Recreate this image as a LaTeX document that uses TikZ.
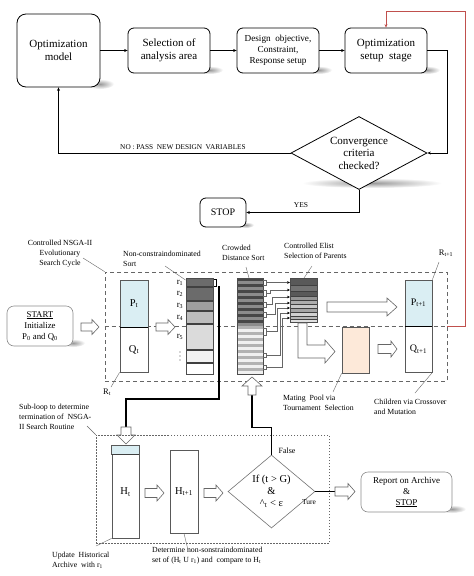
\documentclass[tikz,border=0pt]{standalone}
\usepackage{fontspec}
\setmainfont{Liberation Serif}
\usetikzlibrary{shapes.geometric,arrows.meta,calc}
\definecolor{redc}{RGB}{192,80,77}
\definecolor{ptblue}{RGB}{218,238,243}
\definecolor{mpeach}{RGB}{253,233,217}
% block arrows: x/y start, length, shaft, head, head length
\newcommand\blkR[6]{\draw[blk] ({#1},{#2-#4/2}) -- ({#1+#3-#6},{#2-#4/2}) -- ({#1+#3-#6},{#2-#5/2}) -- ({#1+#3},{#2}) -- ({#1+#3-#6},{#2+#5/2}) -- ({#1+#3-#6},{#2+#4/2}) -- ({#1},{#2+#4/2}) -- cycle;}
\newcommand\blkD[6]{\draw[blk] ({#1-#4/2},{#2}) -- ({#1-#4/2},{#2+#3-#6}) -- ({#1-#5/2},{#2+#3-#6}) -- ({#1},{#2+#3}) -- ({#1+#5/2},{#2+#3-#6}) -- ({#1+#4/2},{#2+#3-#6}) -- ({#1+#4/2},{#2}) -- cycle;}
\newcommand\blkU[6]{\draw[blk] ({#1-#4/2},{#2}) -- ({#1-#4/2},{#2-#3+#6}) -- ({#1-#5/2},{#2-#3+#6}) -- ({#1},{#2-#3}) -- ({#1+#5/2},{#2-#3+#6}) -- ({#1+#4/2},{#2-#3+#6}) -- ({#1+#4/2},{#2}) -- cycle;}
\newcommand\shd[4]{\shade[inner color=black!40,outer color=white] (#1,#2) ellipse [x radius=#3, y radius=#4];}
\newcommand\sub[1]{\textsubscript{#1}}
\begin{document}
\begin{tikzpicture}[x=1pt,y=-1pt,
  every node/.style={inner sep=0pt},
  box/.style={draw=black, line width=0.8pt, rounded corners=6pt, fill=white, align=center},
  gbox/.style={draw=black!45, line width=0.6pt, rounded corners=7pt, fill=white, align=center},
  col/.style={draw=black!70, line width=0.8pt},
  cell/.style={draw=black!65, line width=0.8pt},
  lbl/.style={font=\fontsize{7.8}{10}\selectfont, align=left, anchor=west},
  lead/.style={draw=black!60, line width=0.4pt},
  conn/.style={line width=0.8pt, -{Stealth[length=3.5pt,width=3pt]}},
  blk/.style={draw=black!60, line width=0.6pt, fill=white},
  thk/.style={line width=1.3pt},
  dsh/.style={draw=black!60, line width=0.7pt, dash pattern=on 4pt off 3pt}
]
\useasboundingbox (0,0) rectangle (474,576);
\fill[white] (0,0) rectangle (474,576);

% shadows
\shd{100}{84}{14}{5}
\shd{210}{70}{13}{4}
\shd{319}{70}{13}{4}
\shd{427}{70}{13}{4}
\shd{246}{225}{8}{3}
\shd{73}{343}{12}{4}
\shd{452}{509}{14}{4}
\shd{372}{183}{70}{5}

% ---------- top flow ----------
\node[box, rounded corners=9pt, minimum width=83pt, minimum height=73pt, font=\fontsize{11}{13}\selectfont] (om) at (58.5,50.5) {Optimization\\model};
\node[box, minimum width=82pt, minimum height=45pt, font=\fontsize{11}{13}\selectfont] (sa) at (169,50.5) {Selection of\\analysis area};
\node[box, minimum width=82pt, minimum height=45pt, font=\fontsize{9.2}{11}\selectfont] (dc) at (278,50.5) {Design\ \ objective,\\Constraint,\\Response setup};
\node[box, minimum width=82pt, minimum height=45pt, font=\fontsize{11}{13}\selectfont] (os) at (386,50.5) {Optimization\\setup\ \ stage};
\node[diamond, draw, line width=0.8pt, fill=white, aspect=1.86, minimum width=136pt, minimum height=73pt, align=center, font=\fontsize{11}{12.5}\selectfont] (cc) at (359,153) {Convergence\\criteria\\checked?};
\node[box, minimum width=46pt, minimum height=29pt, font=\fontsize{10}{12}\selectfont] (stop) at (223,212.5) {STOP};

\draw[conn] (om.east) -- (sa.west);
\draw[conn] (sa.east) -- (dc.west);
\draw[conn] (dc.east) -- (os.west);
\draw[conn] (os.east) -- ++(20,0) |- (cc.east);
\draw[conn] (cc.west) -| (om.south);
\draw[conn] (cc.south) |- (stop.east);
\node[font=\fontsize{7.3}{8}\selectfont] (no) at (183,147) {NO : PASS\ \ NEW DESIGN\ \ VARIABLES};
\node[font=\fontsize{7.5}{8}\selectfont] (yes) at (301,205.5) {YES};

% ---------- NSGA-II cycle ----------
\node[dsh, minimum width=342pt, minimum height=109pt] (cyc) at (276,326.5) {};
\draw[dsh, line width=0.6pt] (cyc.west) -- (cyc.east);

\coordinate (rc) at (465,11);
\draw[conn, draw=redc] (cyc.east) -| (rc) -| (os.north);

\node[cell, fill=ptblue, minimum width=28pt, minimum height=47pt, font=\fontsize{10.5}{12}\selectfont] (pt) at (134,303.5) {P\sub{t}};
\node[cell, fill=white, minimum width=28pt, minimum height=45pt, font=\fontsize{10.5}{12}\selectfont] (qt) at (134,349.5) {Q\sub{t}};
\draw[line width=1.2pt] (pt.south west) -- (pt.south east);

\node[gbox, minimum width=66pt, minimum height=40pt, font=\fontsize{8.8}{11}\selectfont] (st) at (40,326) {\underline{START}\\Initialize\\P\sub{0} and Q\sub{0}};
\blkR{81}{327}{18}{8}{15}{7}
\blkR{156}{327}{19}{8}{15}{7}

% non-dominated sort column
\foreach \a/\b/\c in {278/287/58, 287/301/58, 301/311/38, 311/324/26, 324/350/14, 350/363/5, 363/374/0}
  \fill[black!\c] (186,\a) rectangle (213,\b);
\foreach \yy in {287,301,311,324,350,363}
  \draw[line width=1.2pt, black!75] (186,\yy) -- (213,\yy);
\node[col, minimum width=27pt, minimum height=96pt] (srt) at (199.5,326) {};
\foreach \n/\yy in {1/283, 2/294, 3/306, 4/318, 5/337}
  \node[font=\fontsize{9}{10}\selectfont] (r\n) at (180,\yy) {r\sub{\n}};
\foreach \yy in {352,356,360}
  \fill[black!70] (180,\yy) circle [radius=0.6pt];
\draw[line width=0.7pt] (214,279) -- (216.5,279) -- (216.5,286) -- (214,286);

% crowded distance column
\foreach \i in {0,...,15} {
  \pgfmathtruncatemacro\c{mod(\i,2)==0 ? 72 : 45}
  \fill[black!\c] (237,{278+3*\i}) rectangle (263,{281+3*\i});
}
\foreach \i in {16,...,31} {
  \pgfmathtruncatemacro\c{mod(\i,2)==0 ? 30 : 6}
  \fill[black!\c] (237,{278+3*\i}) rectangle (263,{281+3*\i});
}
\node[col, minimum width=26pt, minimum height=96pt] (cds) at (250,326) {};

% elitist selection column
\foreach \a/\b/\c in {278/285/65, 285/291/55, 291/296/65, 296/300/42, 300/304/32, 304/308/22, 308/312/35, 312/316/18, 316/319/28, 319/322/12}
  \fill[black!\c] (290,\a) rectangle (317,\b);
\foreach \yy in {285,291,296,300,304,308,312,316,319}
  \draw[line width=0.6pt, black!75] (290,\yy) -- (317,\yy);
\node[col, minimum width=27pt, minimum height=44pt] (eli) at (303.5,300) {};

\foreach \ya/\yb/\rx/\ty in {280/285/268/282.5, 290/296/270/290, 302/307/272.5/297, 312/317/275/303, 328/335/277.5/308, 353/357/280/313, 365/369/282.5/318} {
  \draw[black!60, line width=0.5pt] (263,\ya) -- (266,\ya) -- (266,\yb) -- (263,\yb);
  \draw[black!60, line width=0.5pt, -{Stealth[length=3pt,width=2.6pt,black]}] (266,{(\ya+\yb)/2}) -| (\rx,\ty) -- (290,\ty);
}

\blkR{327}{307}{70}{10}{18}{10}
\node[cell, fill=ptblue, minimum width=27pt, minimum height=46pt, font=\fontsize{10}{12}\selectfont] (pt1) at (418.5,303) {P\sub{t+1}};
\node[cell, fill=white, minimum width=27pt, minimum height=46pt, font=\fontsize{10}{12}\selectfont] (qt1) at (418.5,349) {Q\sub{t+1}};
\draw[line width=1.2pt] (pt1.south west) -- (pt1.south east);

\draw[blk] (298,323) -- (298,358) -- (325,358) -- (325,363) -- (335,351.5) -- (325,340) -- (325,345) -- (307,345) -- (307,323) -- cycle;
\node[cell, fill=mpeach, minimum width=27pt, minimum height=46pt] (mp) at (355.5,350) {};
\blkR{378}{349}{19}{9}{16}{6}

% thick link down to sub-loop
\coordinate (brk) at (219,286);
\coordinate (hin) at (126,427);
\draw[thk] (brk) -- ++(0,113) -| (hin);
\blkD{126}{427}{17}{10}{18}{9}

% ---------- sub-loop ----------
\node[draw=black!60, line width=0.7pt, dash pattern=on 1.5pt off 1.5pt, minimum width=233pt, minimum height=108pt] (sub) at (212.5,489) {};
\node[cell, fill=white, minimum width=27pt, minimum height=92pt, font=\fontsize{10.5}{12}\selectfont] (ht) at (125.5,492) {H\sub{t}};
\draw[cell, fill=ptblue] (ht.north west) rectangle ($(ht.north east)+(0,9)$);
\draw[line width=1pt, black!75] ($(ht.north west)+(0,9)$) -- ($(ht.north east)+(0,9)$);
\node[cell, fill=white, minimum width=28pt, minimum height=83pt, font=\fontsize{10.5}{12}\selectfont] (ht1) at (184,491.5) {H\sub{t+1}};
\blkR{145}{493}{19}{9}{16}{7}
\blkR{204}{493}{19}{9}{16}{7}
\node[diamond, draw=black!55, line width=0.6pt, fill=white, aspect=1.19, minimum width=87pt, minimum height=73pt, align=center, font=\fontsize{10.5}{12}\selectfont] (dd) at (271.5,491.5) {If (t > G)\\\&\\\textasciicircum\sub{t} < ε};

\draw[thk] (dd.east) -- ++(20,0);
\blkR{335}{491.5}{20}{9}{16}{7}
\node[font=\fontsize{7.5}{9}\selectfont] (ture) at (309,502) {Ture};
\coordinate (upb) at (252,395);
\draw[thk] (dd.north) -- ++(0,-27) -| (upb);
\blkU{252}{395}{18}{8}{20}{9}
\node[font=\fontsize{8}{9}\selectfont] (false) at (287,451) {False};

\node[gbox, minimum width=91pt, minimum height=40pt, font=\fontsize{9}{11}\selectfont] (rp) at (406.5,492) {Report on Archive\\\&\\\underline{STOP}};

% ---------- labels ----------
\node[lbl, align=center, anchor=center] (l1) at (60,254) {Controlled NSGA-II\\Evolutionary\\Search Cycle};
\draw[lead] (83,258) -- (cyc.north west);
\node[lbl] (l2) at (123,259) {Non-constraindominated\\Sort};
\draw[lead] (165,266) -- (185.5,280);
\node[lbl] (l3) at (222,253) {Crowded\\Distance Sort};
\draw[lead] (246,267) -- (249,278);
\node[lbl] (l4) at (284,251) {Controlled Elist\\Selection of Parents};
\draw[lead] (312,266) -- (304,278);
\node[font=\fontsize{8.5}{10}\selectfont] (rt1) at (446,253) {R\sub{t+1}};
\draw[lead] (439,262) -- (pt1.north east);
\node[font=\fontsize{8.5}{10}\selectfont] (rt) at (107,392) {R\sub{t}};
\draw[lead] (111,387) -- (qt.south west);
\node[lbl] (l5) at (283,403) {Mating\ \ Pool via\\Tournament\ \ Selection};
\draw[lead] (mp.south west) -- (333,392);
\node[lbl] (l6) at (374,407) {Children via Crossover\\and Mutation};
\draw[lead] (qt1.south east) -- (415,393);
\node[lbl] (l7) at (19,417) {Sub-loop to determine\\termination of\ \ NSGA-\\II Search Routine};
\draw[lead] (87,426) -- (sub.north west);
\node[lbl] (l8) at (52,560.5) {Update\ \ Historical\\Archive\ \ with r\sub{1}};
\draw[lead] (ht.south west) -- (96,546);
\node[lbl] (l9) at (152,556) {Determine non-sonstraindominated\\set of (H\sub{t} U r\sub{1}) and\ \ compare to H\sub{t}};
\draw[lead] (ht1.south) -- (188,550);
\end{tikzpicture}
\end{document}
